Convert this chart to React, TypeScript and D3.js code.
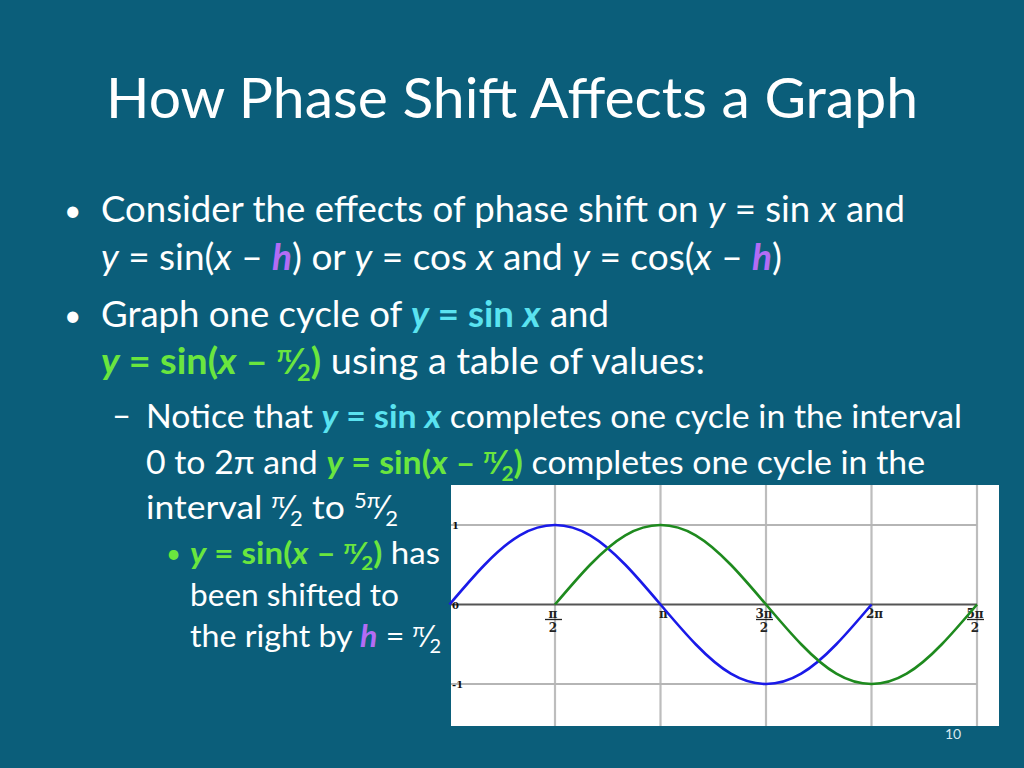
import React, { useMemo } from "react";
import * as d3 from "d3";

// ---------------------------------------------------------------------------
// DATA (angles in units of π/6)
// ---------------------------------------------------------------------------
const blueAngles = [0, 1, 2, 3, 4, 5, 6, 7, 8, 9, 10, 11, 12];
const blueValues = [0, 0.5, 0.87, 1, 0.87, 0.5, 0, -0.5, -0.87, -1, -0.87, -0.5, 0];

const greenAngles = [3, 4, 5, 6, 7, 8, 9, 10, 11, 12, 13, 14, 15];
const greenValues = [0, 0.5, 0.87, 1, 0.87, 0.5, 0, -0.5, -0.87, -1, -0.87, -0.5, 0];

const xTickAngles = [3, 6, 9, 12, 15];
const xTickNums = ["π", "π", "3π", "2π", "5π"];
const xTickDens = ["2", "", "2", "", "2"];

const yTicks = [1, 0, -1];
const yTickLabels = ["1", "0", "-1"];

// colours
const BG = "#0b5e7a";
const CYAN = "#5ae3f0";
const GREEN = "#6ae63e";
const PURPLE = "#b36cf5";
const FONT = "Lato, 'Open Sans', sans-serif";

type Pt = { a: number; v: number };

// fraction like π⁄2 inside a line of text
function frac(num: string, den: string, size: number) {
  return [
    <tspan key="n" fontSize={size * 0.62} baselineShift={size * 0.32}>{num}</tspan>,
    <tspan key="s">⁄</tspan>,
    <tspan key="d" fontSize={size * 0.62} baselineShift={-size * 0.2}>{den}</tspan>,
  ];
}

export default function App() {
  // chart box (the pasted picture)
  const box = { left: 451, top: 485, right: 999, bottom: 726 };

  const x = useMemo(() => d3.scaleLinear().domain([0, 15]).range([449.5, 977]), []);
  const y = useMemo(() => d3.scaleLinear().domain([-1, 1]).range([684, 525]), []);

  const lineGen = d3
    .line<Pt>()
    .x((d) => x(d.a))
    .y((d) => y(d.v))
    .curve(d3.curveNatural);

  const blue: Pt[] = blueAngles.map((a, i) => ({ a, v: blueValues[i] }));
  const green: Pt[] = greenAngles.map((a, i) => ({ a, v: greenValues[i] }));

  const it = { fontStyle: "italic" as const };
  const bi = { fontStyle: "italic" as const, fontWeight: 700 };

  return (
    <div style={{ position: "absolute", left: 0, top: 0, width: 1024, height: 768 }}>
      <svg width={1024} height={768} style={{ display: "block" }} fontFamily={FONT}>
        <rect x={0} y={0} width={1024} height={768} fill={BG} />

        {/* title */}
        <text x={106} y={118} fill="#fff" fontSize={56} textLength={812} lengthAdjust="spacingAndGlyphs">
          How Phase Shift Affects a Graph
        </text>

        {/* level 1 bullets */}
        <g fill="#fff" fontSize={36}>
          <text x={64} y={221} fontSize={30}>•</text>
          <text x={101} y={222} textLength={804} lengthAdjust="spacingAndGlyphs">
            Consider the effects of phase shift on <tspan {...it}>y</tspan> = sin <tspan {...it}>x</tspan> and
          </text>
          <text x={101} y={270} textLength={681} lengthAdjust="spacingAndGlyphs">
            <tspan {...it}>y</tspan> = sin(<tspan {...it}>x</tspan> – <tspan {...bi} fill={PURPLE}>h</tspan>) or{" "}
            <tspan {...it}>y</tspan> = cos <tspan {...it}>x</tspan> and <tspan {...it}>y</tspan> = cos(
            <tspan {...it}>x</tspan> – <tspan {...bi} fill={PURPLE}>h</tspan>)
          </text>

          <text x={64} y={326} fontSize={30}>•</text>
          <text x={101} y={327} textLength={508} lengthAdjust="spacingAndGlyphs">
            Graph one cycle of{" "}
            <tspan fill={CYAN} fontWeight={700}>
              <tspan {...it}>y</tspan> = sin <tspan {...it}>x</tspan>
            </tspan>{" "}
            and
          </text>
          <text x={101} y={374} textLength={604} lengthAdjust="spacingAndGlyphs">
            <tspan fill={GREEN} fontWeight={700}>
              <tspan {...it}>y</tspan> = sin(<tspan {...it}>x</tspan> – {frac("π", "2", 36)})
            </tspan>{" "}
            using a table of values:
          </text>
        </g>

        {/* level 2 */}
        <g fill="#fff" fontSize={33}>
          <text x={112} y={427}>–</text>
          <text x={146} y={428} textLength={816} lengthAdjust="spacingAndGlyphs">
            Notice that{" "}
            <tspan fill={CYAN} fontWeight={700}>
              <tspan {...it}>y</tspan> = sin <tspan {...it}>x</tspan>
            </tspan>{" "}
            completes one cycle in the interval
          </text>
          <text x={146} y={474} textLength={779} lengthAdjust="spacingAndGlyphs">
            0 to 2π and{" "}
            <tspan fill={GREEN} fontWeight={700}>
              <tspan {...it}>y</tspan> = sin(<tspan {...it}>x</tspan> – {frac("π", "2", 33)})
            </tspan>{" "}
            completes one cycle in the
          </text>
          <text x={146} y={519} textLength={252} lengthAdjust="spacingAndGlyphs">
            interval {frac("π", "2", 33)} to {frac("5π", "2", 33)}
          </text>
        </g>

        {/* level 3 */}
        <g fill="#fff" fontSize={30}>
          <text x={166} y={563} fill={GREEN} fontSize={26}>•</text>
          <text x={190} y={564} textLength={250} lengthAdjust="spacingAndGlyphs">
            <tspan fill={GREEN} fontWeight={700}>
              <tspan {...it}>y</tspan> = sin(<tspan {...it}>x</tspan> – {frac("π", "2", 30)})
            </tspan>{" "}
            has
          </text>
          <text x={190} y={606} textLength={209} lengthAdjust="spacingAndGlyphs">
            been shifted to
          </text>
          <text x={190} y={647} textLength={251} lengthAdjust="spacingAndGlyphs">
            the right by <tspan {...bi} fill={PURPLE}>h</tspan> = {frac("π", "2", 30)}
          </text>
        </g>

        {/* chart picture */}
        <g>
          <rect x={box.left} y={box.top} width={box.right - box.left} height={box.bottom - box.top} fill="#fff" />
          {xTickAngles.map((a) => (
            <line key={"v" + a} x1={x(a)} x2={x(a)} y1={box.top} y2={box.bottom} stroke="#bdbdbd" strokeWidth={2.2} />
          ))}
          {yTicks.map((t) => (
            <line
              key={"h" + t}
              x1={box.left}
              x2={x(15)}
              y1={y(t)}
              y2={y(t)}
              stroke={t === 0 ? "#555" : "#b5b5b5"}
              strokeWidth={t === 0 ? 2 : 1.8}
            />
          ))}
          {yTicks.map((t, i) => (
            <text
              key={"yl" + t}
              x={box.left + 1}
              y={y(t) + 4}
              fontSize={10}
              fontWeight={700}
              fontFamily="'DejaVu Serif', serif"
              fill="#111"
            >
              {yTickLabels[i]}
            </text>
          ))}
          {xTickAngles.map((a, i) => (
            <g key={"xl" + a} fontFamily="'DejaVu Serif', serif" fontWeight={700} fill="#222" textAnchor="middle">
              <text x={x(a) + (xTickDens[i] ? -2 : 3)} y={y(0) + 13} fontSize={12}>
                {xTickNums[i]}
              </text>
              {xTickDens[i] && (
                <>
                  <line x1={x(a) - 10} x2={x(a) + 7} y1={y(0) + 15} y2={y(0) + 15} stroke="#222" strokeWidth={1.3} />
                  <text x={x(a) - 2} y={y(0) + 27} fontSize={12}>
                    {xTickDens[i]}
                  </text>
                </>
              )}
            </g>
          ))}
          <path d={lineGen(blue) ?? ""} fill="none" stroke="#1a1ae8" strokeWidth={2.6} />
          <path d={lineGen(green) ?? ""} fill="none" stroke="#1e8a1e" strokeWidth={2.6} />
        </g>

        {/* slide number */}
        <text x={953} y={739} fill="#d8e8ee" fontSize={14} textAnchor="middle">
          10
        </text>
      </svg>
    </div>
  );
}
